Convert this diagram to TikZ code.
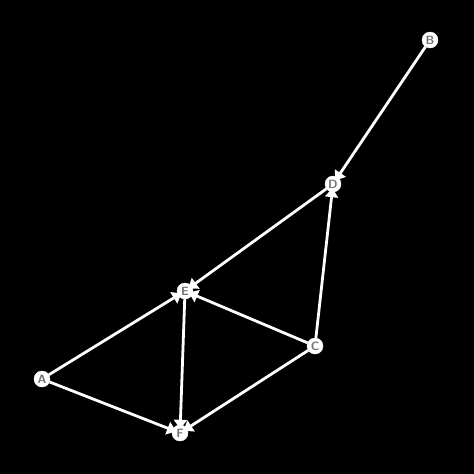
\documentclass[tikz,border=0pt]{standalone}
\usepackage{tikz}
\usetikzlibrary{arrows.meta}
\pgfdeclarelayer{bg}
\pgfdeclarelayer{edges}
\pgfsetlayers{bg,edges,main}
\begin{document}
\begin{tikzpicture}[x=1pt, y=-1pt,
vertex/.style={circle, fill=white, draw=white, minimum size=16pt, inner sep=0pt,
  font=\sffamily\bfseries\large, text=black!55},
arrow/.style={-{Triangle[width=13pt,length=9pt]}, white, line width=2.8pt, shorten >=-4pt}
]
\begin{pgfonlayer}{bg}
\fill[black] (0,0) rectangle (474,474);
\end{pgfonlayer}
\useasboundingbox (0,0) rectangle (474,474);

% Vertices
\node[vertex] (B) at (430,40) {B};
\node[vertex] (D) at (333,184) {D};
\node[vertex] (E) at (185,291) {E};
\node[vertex] (C) at (315,346) {C};
\node[vertex] (A) at (42,379) {A};
\node[vertex] (F) at (180,433) {F};

% Edges
\begin{pgfonlayer}{edges}
\draw[arrow] (B) -- (D);
\draw[arrow] (C) -- (D);
\draw[arrow] (D) -- (E);
\draw[arrow] (C) -- (E);
\draw[arrow] (A) -- (E);
\draw[arrow] (E) -- (F);
\draw[arrow] (A) -- (F);
\draw[arrow] (C) -- (F);
\end{pgfonlayer}

\end{tikzpicture}
\end{document}
